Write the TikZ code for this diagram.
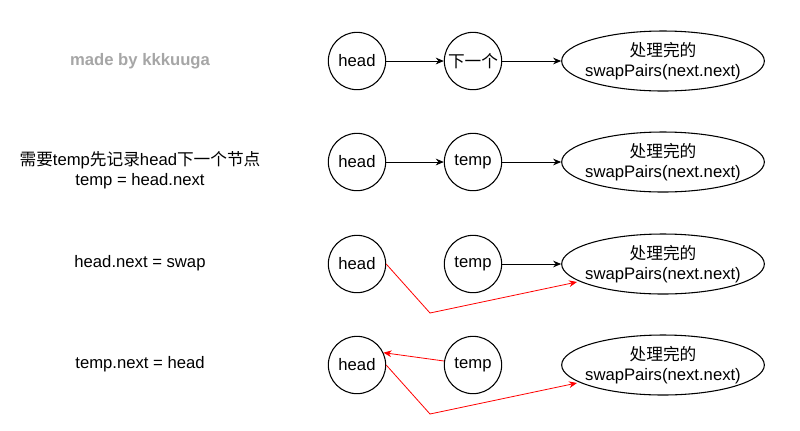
\documentclass[tikz,border=0pt]{standalone}
\usepackage{fontspec}
\setmainfont{Liberation Sans}
\newfontfamily\cjk{Noto Sans CJK SC}
\usetikzlibrary{arrows.meta,shapes.geometric}
\begin{document}
\begin{tikzpicture}[x=0.75pt,y=-0.75pt,font=\fontsize{12.5}{15}\selectfont,
  cir/.style={draw,thick,circle,minimum size=43pt,inner sep=0pt},
  ell/.style={draw,thick,ellipse,minimum width=152pt,minimum height=45pt,inner ysep=0pt,inner xsep=-7pt,align=center},
  arr/.style={-{Stealth[length=6pt,width=5pt]},semithick},
  red/.style={-{Stealth[length=6pt,width=5pt]},semithick,draw=red}]
\useasboundingbox (0,0) rectangle (800,430);
\node[text=gray!70,font=\fontsize{12.5}{15}\selectfont\bfseries] (w) at (140,61) {made by kkkuuga};
\node[align=center] (t2) at (140,170) {{\cjk 需要}temp{\cjk 先记录}head{\cjk 下一个节点}\\temp = head.next};
\node (t3) at (140,263) {head.next = swap};
\node (t4) at (140,364) {temp.next = head};
\foreach \r/\y in {1/61,2/162,3/264,4/365}{
  \node[cir] (h\r) at (357,\y) {head};
  \node[ell] (e\r) at (663,\y) {{\cjk 处理完的}\\swapPairs(next.next)};
}
\node[cir] (n1) at (473,61) {\cjk 下一个};
\foreach \r/\y in {2/162,3/264,4/365}{\node[cir] (n\r) at (473,\y) {temp};}
\draw[arr] (h1) -- (n1); \draw[arr] (n1) -- (e1);
\draw[arr] (h2) -- (n2); \draw[arr] (n2) -- (e2);
\draw[arr] (n3) -- (e3);
\coordinate (c3) at (430,313);
\coordinate (d3) at (577,282);
\draw[red] (h3.east) -- (c3) -- (d3);
\draw[red] (n4) -- (h4.25);
\coordinate (c4) at (430,414);
\coordinate (d4) at (577,383);
\draw[red] (h4.east) -- (c4) -- (d4);
\end{tikzpicture}
\end{document}
